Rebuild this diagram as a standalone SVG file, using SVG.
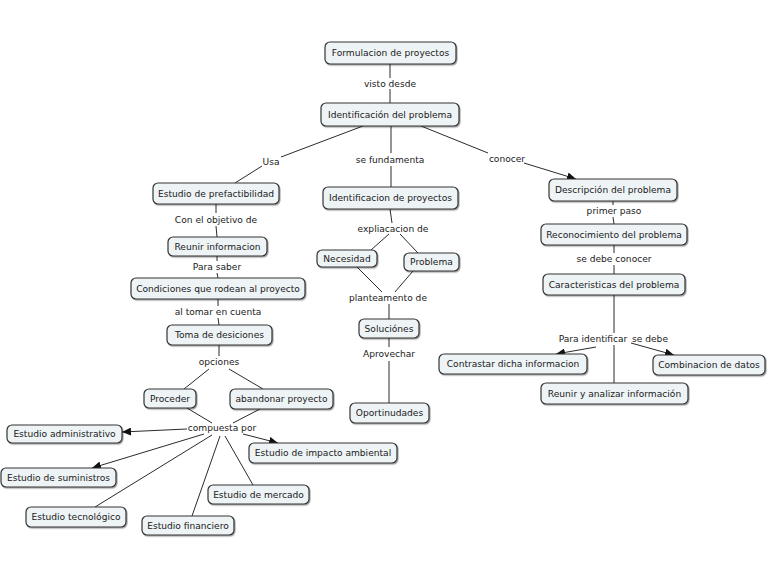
<svg xmlns="http://www.w3.org/2000/svg" width="768" height="578" viewBox="0 0 768 578">
<defs>
<style>
.n rect{fill:#eef3f6;stroke:#333;stroke-width:1.2;filter:url(#sh)}
text{font-family:"DejaVu Sans","Verdana",sans-serif;font-size:9.1px;fill:#1a1a1a;text-anchor:middle}
#connectors line{stroke:#2b2b2b;stroke-width:1}
</style>
<filter id="sh" x="-5%" y="-10%" width="115%" height="140%">
<feDropShadow dx="1" dy="1.2" stdDeviation="0.6" flood-color="#000" flood-opacity="0.35"/>
</filter>
<marker id="arr" markerUnits="userSpaceOnUse" markerWidth="10" markerHeight="8" refX="9" refY="4" orient="auto">
<path d="M0,0 L9,4 L0,8 Z" fill="#111"/>
</marker>
</defs>
<rect width="768" height="578" fill="#fff"/>
<g id="connectors">
<line x1="390" y1="64" x2="390" y2="78"/>
<line x1="390" y1="89" x2="390" y2="103"/>
<line x1="363" y1="126" x2="281" y2="157"/>
<line x1="262" y1="166" x2="235" y2="183"/>
<line x1="391" y1="126" x2="391" y2="153"/>
<line x1="391" y1="166" x2="391" y2="187"/>
<line x1="421" y1="126" x2="488" y2="153"/>
<line x1="524" y1="163" x2="576" y2="179" marker-end="url(#arr)"/>
<line x1="216" y1="204" x2="216" y2="213"/>
<line x1="216" y1="226" x2="217" y2="237"/>
<line x1="217" y1="256" x2="217" y2="261"/>
<line x1="217" y1="273" x2="218" y2="278"/>
<line x1="218" y1="299" x2="218" y2="306"/>
<line x1="218" y1="318" x2="219" y2="325"/>
<line x1="219" y1="345" x2="219" y2="356"/>
<line x1="209" y1="369" x2="184" y2="389"/>
<line x1="229" y1="369" x2="263" y2="389"/>
<line x1="187" y1="408" x2="212" y2="423"/>
<line x1="260" y1="409" x2="233" y2="423"/>
<line x1="187" y1="429" x2="122" y2="432" marker-end="url(#arr)"/>
<line x1="204" y1="434" x2="92" y2="468" marker-end="url(#arr)"/>
<line x1="212" y1="435" x2="95" y2="507"/>
<line x1="220" y1="436" x2="192" y2="516"/>
<line x1="225" y1="436" x2="253" y2="485"/>
<line x1="243" y1="434" x2="278" y2="443" marker-end="url(#arr)"/>
<line x1="390" y1="209" x2="392" y2="223"/>
<line x1="389" y1="234" x2="371" y2="250"/>
<line x1="400" y1="234" x2="418" y2="253"/>
<line x1="357" y1="267" x2="382" y2="292"/>
<line x1="413" y1="271" x2="395" y2="292"/>
<line x1="389" y1="304" x2="389" y2="319"/>
<line x1="389" y1="338" x2="389" y2="347"/>
<line x1="389" y1="361" x2="389" y2="403"/>
<line x1="613" y1="201" x2="613" y2="205"/>
<line x1="613" y1="217" x2="614" y2="224"/>
<line x1="614" y1="245" x2="614" y2="253"/>
<line x1="614" y1="265" x2="614" y2="274"/>
<line x1="614" y1="295" x2="614" y2="333"/>
<line x1="614" y1="345" x2="614" y2="383"/>
<line x1="596" y1="347" x2="556" y2="354" marker-end="url(#arr)"/>
<line x1="631" y1="343" x2="674" y2="355" marker-end="url(#arr)"/>
</g>
<g id="labels">
<text x="390" y="87">visto desde</text>
<text x="271" y="165">Usa</text>
<text x="390" y="163">se fundamenta</text>
<text x="507" y="162">conocer</text>
<text x="216" y="223">Con el objetivo de</text>
<text x="217" y="270">Para saber</text>
<text x="218" y="315">al tomar en cuenta</text>
<text x="219" y="365">opciones</text>
<text x="222" y="431">compuesta por</text>
<text x="393" y="232">expliacacion de</text>
<text x="388" y="301">planteamento de</text>
<text x="389" y="357">Aprovechar</text>
<text x="614" y="214">primer paso</text>
<text x="614" y="262">se debe conocer</text>
<text x="593" y="342">Para identificar</text>
<text x="650" y="342">se debe</text>
</g>
<g id="n1" class="n"><rect x="325" y="42" width="131" height="22" rx="5"/><text x="390.5" y="56.3">Formulacion de proyectos</text></g>
<g id="n2" class="n"><rect x="321" y="103" width="138" height="23" rx="5"/><text x="390" y="117.8">Identificación del problema</text></g>
<g id="n3" class="n"><rect x="153" y="183" width="126" height="21" rx="5"/><text x="216" y="196.8">Estudio de prefactibilidad</text></g>
<g id="n4" class="n"><rect x="323" y="187" width="135" height="22" rx="5"/><text x="390.5" y="201.3">Identificacion de proyectos</text></g>
<g id="n5" class="n"><rect x="549" y="179" width="128" height="22" rx="5"/><text x="613" y="193.3">Descripción del problema</text></g>
<g id="n6" class="n"><rect x="541" y="224" width="146" height="21" rx="5"/><text x="614" y="237.8">Reconocimiento del problema</text></g>
<g id="n7" class="n"><rect x="543" y="274" width="142" height="21" rx="5"/><text x="614" y="287.8">Caracteristicas del problema</text></g>
<g id="n8" class="n"><rect x="439" y="354" width="148" height="20" rx="5"/><text x="513" y="367.3">Contrastar dicha informacion</text></g>
<g id="n9" class="n"><rect x="653" y="355" width="112" height="20" rx="5"/><text x="709" y="368.3">Combinacion de datos</text></g>
<g id="n10" class="n"><rect x="541" y="383" width="147" height="21" rx="5"/><text x="614.5" y="396.8">Reunir y analizar información</text></g>
<g id="n11" class="n"><rect x="168" y="237" width="99" height="19" rx="5"/><text x="217.5" y="249.8">Reunir informacion</text></g>
<g id="n12" class="n"><rect x="131" y="278" width="174" height="21" rx="5"/><text x="218" y="291.8">Condiciones que rodean al proyecto</text></g>
<g id="n13" class="n"><rect x="167" y="325" width="105" height="20" rx="5"/><text x="219.5" y="338.3">Toma de desiciones</text></g>
<g id="n14" class="n"><rect x="144" y="389" width="52" height="19" rx="5"/><text x="170" y="401.8">Proceder</text></g>
<g id="n15" class="n"><rect x="230" y="389" width="103" height="20" rx="5"/><text x="281.5" y="402.3">abandonar proyecto</text></g>
<g id="n16" class="n"><rect x="7" y="425" width="115" height="18" rx="5"/><text x="64.5" y="437.3">Estudio administrativo</text></g>
<g id="n17" class="n"><rect x="249" y="443" width="148" height="20" rx="5"/><text x="323" y="456.3">Estudio de impacto ambiental</text></g>
<g id="n18" class="n"><rect x="1" y="468" width="115" height="19" rx="5"/><text x="58.5" y="480.8">Estudio de suministros</text></g>
<g id="n19" class="n"><rect x="208" y="485" width="101" height="19" rx="5"/><text x="258.5" y="497.8">Estudio de mercado</text></g>
<g id="n20" class="n"><rect x="26" y="507" width="100" height="20" rx="5"/><text x="76" y="520.3">Estudio tecnológico</text></g>
<g id="n21" class="n"><rect x="142" y="516" width="92" height="19" rx="5"/><text x="188" y="528.8">Estudio financiero</text></g>
<g id="n22" class="n"><rect x="317" y="250" width="60" height="17" rx="5"/><text x="347" y="261.8">Necesidad</text></g>
<g id="n23" class="n"><rect x="404" y="253" width="55" height="18" rx="5"/><text x="431.5" y="265.3">Problema</text></g>
<g id="n24" class="n"><rect x="359" y="319" width="60" height="19" rx="5"/><text x="389" y="331.8">Soluciónes</text></g>
<g id="n25" class="n"><rect x="350" y="403" width="79" height="20" rx="5"/><text x="389.5" y="416.3">Oportinudades</text></g>
</svg>
